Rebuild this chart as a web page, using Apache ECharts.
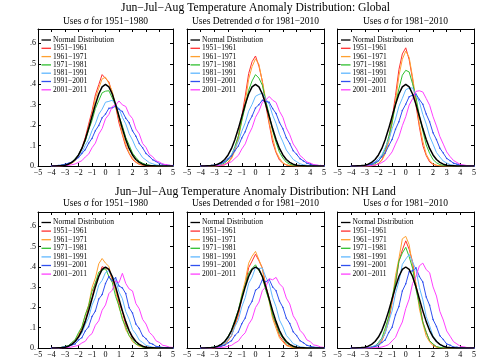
<!DOCTYPE html>
<html><head><meta charset="utf-8">
<script src="https://cdn.jsdelivr.net/npm/echarts@6/dist/echarts.min.js"></script>
<style>html,body{margin:0;padding:0;background:#fff}#c{width:500px;height:360px}</style>
</head><body><div id="c"></div>
<script>
const xs = [-4,-3.75,-3.5,-3.25,-3,-2.75,-2.5,-2.25,-2,-1.75,-1.5,-1.25,-1,-0.75,-0.5,-0.25,0,0.25,0.5,0.75,1,1.25,1.5,1.75,2,2.25,2.5,2.75,3,3.25,3.5,3.75,4,4.25,4.5,4.75,5];
const normal = [0,0,0.001,0.002,0.004,0.009,0.018,0.032,0.054,0.086,0.130,0.183,0.242,0.301,0.352,0.387,0.399,0.387,0.352,0.301,0.242,0.183,0.130,0.086,0.054,0.032,0.018,0.009,0.004,0.002,0.001,0,0,0,0,0,0];

// Global, sigma 1951-1980
const g1_red = [0,0,0,0.001,0.003,0.007,0.015,0.029,0.051,0.088,0.139,0.205,0.268,0.348,0.398,0.447,0.428,0.412,0.352,0.291,0.210,0.152,0.095,0.061,0.032,0.018,0.008,0.004,0.001,0,0,0,0,0,0,0,0];
const g1_orange = [0,0,0,0.001,0.003,0.006,0.013,0.026,0.047,0.083,0.125,0.190,0.252,0.330,0.380,0.426,0.434,0.404,0.365,0.293,0.230,0.158,0.108,0.063,0.039,0.020,0.010,0.005,0.002,0.001,0,0,0,0,0,0,0];
const g1_green = [0,0.001,0.001,0.003,0.006,0.011,0.018,0.036,0.053,0.089,0.121,0.176,0.222,0.281,0.320,0.358,0.366,0.368,0.333,0.300,0.244,0.196,0.140,0.102,0.063,0.042,0.023,0.014,0.007,0.004,0.002,0.001,0,0,0,0,0];
const g1_lblue = [0,0.001,0.002,0.004,0.007,0.011,0.020,0.029,0.049,0.067,0.101,0.129,0.173,0.206,0.253,0.278,0.312,0.316,0.322,0.298,0.281,0.238,0.206,0.158,0.127,0.089,0.066,0.041,0.029,0.016,0.011,0.005,0.003,0.002,0.001,0,0];
const g1_blue = [0.001,0.001,0.003,0.004,0.008,0.013,0.018,0.030,0.041,0.061,0.080,0.111,0.135,0.173,0.198,0.236,0.254,0.282,0.285,0.292,0.278,0.266,0.234,0.212,0.172,0.146,0.110,0.089,0.061,0.047,0.030,0.022,0.012,0.008,0.005,0.003,0.002];
const g1_magenta = [0,0,0,0.001,0.002,0.003,0.006,0.010,0.018,0.026,0.044,0.058,0.089,0.112,0.156,0.183,0.231,0.252,0.291,0.298,0.318,0.299,0.291,0.252,0.232,0.181,0.157,0.110,0.091,0.057,0.045,0.025,0.019,0.009,0.007,0.003,0.002];

// Global, detrended sigma 1981-2010
const g2_red = [0,0,0,0,0,0.001,0.003,0.007,0.018,0.041,0.085,0.146,0.243,0.342,0.452,0.510,0.538,0.488,0.415,0.297,0.205,0.117,0.065,0.029,0.014,0.005,0.002,0.001,0,0,0,0,0,0,0,0,0];
const g2_orange = [0,0,0,0,0,0.001,0.002,0.006,0.016,0.036,0.076,0.131,0.222,0.314,0.424,0.486,0.524,0.497,0.412,0.324,0.213,0.138,0.071,0.038,0.015,0.006,0.002,0.001,0,0,0,0,0,0,0,0,0];
const g2_green = [0,0,0,0,0.001,0.003,0.007,0.015,0.030,0.052,0.096,0.146,0.222,0.291,0.370,0.416,0.447,0.430,0.395,0.319,0.251,0.173,0.116,0.067,0.039,0.019,0.009,0.004,0.002,0.001,0,0,0,0,0,0,0];
const g2_lblue = [0,0,0.001,0.002,0.004,0.007,0.012,0.021,0.037,0.056,0.089,0.121,0.170,0.211,0.268,0.301,0.341,0.350,0.356,0.329,0.302,0.249,0.208,0.155,0.118,0.078,0.055,0.032,0.021,0.011,0.006,0.003,0.001,0.001,0,0,0];
const g2_blue = [0,0.001,0.001,0.003,0.004,0.008,0.014,0.021,0.035,0.049,0.075,0.098,0.137,0.168,0.213,0.244,0.284,0.300,0.322,0.315,0.312,0.281,0.257,0.213,0.182,0.138,0.110,0.075,0.057,0.036,0.025,0.014,0.009,0.005,0.003,0.002,0.001];
const g2_magenta = [0,0,0,0.001,0.001,0.002,0.004,0.007,0.014,0.021,0.037,0.052,0.083,0.108,0.153,0.187,0.238,0.268,0.312,0.323,0.340,0.322,0.311,0.268,0.238,0.186,0.153,0.108,0.083,0.051,0.037,0.020,0.014,0.007,0.004,0.002,0.001];

// Global, sigma 1981-2010
const g3_red = [0,0,0,0,0,0,0.001,0.004,0.012,0.030,0.068,0.130,0.231,0.345,0.472,0.548,0.578,0.520,0.425,0.296,0.190,0.100,0.051,0.020,0.008,0.003,0.001,0,0,0,0,0,0,0,0,0,0];
const g3_orange = [0,0,0,0,0,0,0.001,0.004,0.011,0.027,0.061,0.117,0.210,0.315,0.441,0.522,0.562,0.531,0.435,0.322,0.204,0.121,0.058,0.028,0.010,0.004,0.001,0,0,0,0,0,0,0,0,0,0];
const g3_green = [0,0,0,0,0.001,0.002,0.005,0.011,0.024,0.048,0.083,0.143,0.212,0.302,0.378,0.444,0.468,0.460,0.402,0.336,0.245,0.171,0.103,0.062,0.031,0.016,0.007,0.003,0.001,0,0,0,0,0,0,0,0];
const g3_lblue = [0,0,0.001,0.001,0.003,0.006,0.011,0.020,0.036,0.055,0.091,0.126,0.182,0.230,0.292,0.331,0.373,0.381,0.382,0.346,0.312,0.252,0.205,0.146,0.107,0.066,0.044,0.024,0.015,0.007,0.004,0.002,0.001,0,0,0,0];
const g3_blue = [0,0,0.001,0.001,0.002,0.005,0.009,0.017,0.026,0.045,0.064,0.099,0.130,0.180,0.217,0.271,0.302,0.339,0.346,0.352,0.325,0.302,0.254,0.216,0.162,0.129,0.087,0.063,0.037,0.026,0.014,0.009,0.004,0.002,0.001,0.001,0];
const g3_magenta = [0,0,0,0,0,0.001,0.002,0.005,0.009,0.017,0.027,0.047,0.069,0.107,0.143,0.197,0.241,0.298,0.329,0.365,0.368,0.362,0.330,0.297,0.241,0.196,0.144,0.107,0.069,0.046,0.027,0.017,0.008,0.005,0.002,0.001,0];

// NH Land, sigma 1951-1980
const n1_red = [0,0,0.001,0.002,0.005,0.011,0.019,0.038,0.057,0.099,0.134,0.203,0.248,0.322,0.354,0.401,0.392,0.388,0.335,0.298,0.222,0.179,0.114,0.083,0.046,0.030,0.015,0.009,0.004,0.002,0.001,0,0,0,0,0,0];
const n1_orange = [0,0,0.001,0.002,0.006,0.009,0.022,0.035,0.068,0.101,0.163,0.212,0.298,0.345,0.415,0.441,0.418,0.402,0.332,0.282,0.200,0.152,0.090,0.062,0.031,0.019,0.008,0.005,0.002,0.001,0,0,0,0,0,0,0];
const n1_green = [0,0.001,0.001,0.003,0.008,0.012,0.027,0.041,0.075,0.104,0.162,0.208,0.279,0.320,0.374,0.383,0.391,0.352,0.323,0.254,0.207,0.141,0.104,0.061,0.041,0.020,0.013,0.005,0.003,0.001,0,0,0,0,0,0,0];
const n1_lblue = [0,0.001,0.001,0.003,0.007,0.009,0.021,0.029,0.053,0.073,0.116,0.149,0.211,0.249,0.310,0.333,0.372,0.381,0.352,0.334,0.276,0.243,0.179,0.142,0.091,0.069,0.039,0.027,0.013,0.009,0.004,0.002,0.001,0,0,0,0];
const n1_blue = [0,0.001,0.001,0.002,0.005,0.007,0.015,0.020,0.039,0.051,0.084,0.105,0.155,0.182,0.241,0.263,0.318,0.352,0.331,0.346,0.305,0.296,0.268,0.198,0.172,0.118,0.096,0.060,0.046,0.025,0.019,0.008,0.006,0.002,0.002,0.001,0];
const n1_magenta = [0,0,0,0.001,0.001,0.003,0.005,0.009,0.013,0.025,0.033,0.057,0.071,0.112,0.134,0.186,0.212,0.268,0.285,0.331,0.322,0.368,0.318,0.291,0.281,0.219,0.193,0.141,0.118,0.077,0.061,0.035,0.027,0.013,0.010,0.004,0.003];

// NH Land, detrended sigma 1981-2010
const n2_red = [0,0,0,0,0.001,0.003,0.009,0.016,0.037,0.060,0.112,0.160,0.245,0.309,0.396,0.428,0.462,0.430,0.395,0.308,0.245,0.159,0.112,0.059,0.037,0.015,0.009,0.002,0.001,0,0,0,0,0,0,0,0];
const n2_orange = [0,0,0,0,0.001,0.003,0.009,0.017,0.038,0.062,0.117,0.170,0.264,0.330,0.418,0.452,0.476,0.435,0.390,0.299,0.229,0.145,0.097,0.050,0.030,0.012,0.006,0.002,0.001,0,0,0,0,0,0,0,0];
const n2_green = [0,0,0.001,0.002,0.005,0.008,0.019,0.030,0.058,0.088,0.139,0.187,0.258,0.310,0.369,0.392,0.410,0.381,0.351,0.284,0.233,0.162,0.120,0.072,0.048,0.024,0.015,0.006,0.003,0.001,0.001,0,0,0,0,0,0];
const n2_lblue = [0,0,0.001,0.002,0.004,0.006,0.014,0.022,0.043,0.062,0.105,0.139,0.203,0.248,0.318,0.349,0.396,0.392,0.394,0.349,0.318,0.248,0.203,0.138,0.104,0.062,0.043,0.021,0.014,0.006,0.004,0.001,0.001,0,0,0,0];
const n2_blue = [0,0,0.001,0.001,0.003,0.005,0.009,0.014,0.026,0.036,0.062,0.079,0.120,0.148,0.201,0.230,0.284,0.298,0.335,0.326,0.338,0.301,0.282,0.231,0.200,0.147,0.121,0.080,0.061,0.036,0.026,0.013,0.009,0.004,0.003,0.001,0.001];
const n2_magenta = [0,0,0,0,0.001,0.001,0.003,0.004,0.009,0.013,0.025,0.034,0.058,0.075,0.117,0.143,0.199,0.226,0.283,0.301,0.342,0.336,0.348,0.316,0.299,0.246,0.217,0.159,0.131,0.087,0.069,0.040,0.031,0.015,0.012,0.005,0.003];

// NH Land, sigma 1981-2010
const n3_red = [0,0,0,0,0,0.001,0.003,0.006,0.017,0.036,0.077,0.131,0.224,0.312,0.428,0.483,0.528,0.486,0.425,0.311,0.224,0.130,0.077,0.035,0.017,0.005,0.002,0.001,0,0,0,0,0,0,0,0,0];
const n3_orange = [0,0,0,0,0,0.001,0.002,0.008,0.016,0.041,0.078,0.152,0.233,0.356,0.441,0.538,0.550,0.509,0.405,0.312,0.192,0.121,0.058,0.030,0.011,0.004,0.001,0,0,0,0,0,0,0,0,0,0];
const n3_green = [0,0,0,0,0.001,0.002,0.006,0.010,0.027,0.049,0.099,0.153,0.248,0.325,0.428,0.468,0.496,0.450,0.393,0.289,0.214,0.126,0.078,0.036,0.020,0.007,0.003,0.001,0,0,0,0,0,0,0,0,0];
const n3_lblue = [0,0,0,0,0.001,0.002,0.005,0.012,0.021,0.046,0.073,0.131,0.182,0.268,0.328,0.412,0.438,0.461,0.424,0.386,0.298,0.237,0.155,0.109,0.057,0.037,0.015,0.009,0.003,0.002,0.001,0,0,0,0,0,0];
const n3_blue = [0,0,0,0,0.001,0.002,0.003,0.008,0.012,0.027,0.040,0.076,0.102,0.164,0.205,0.281,0.316,0.376,0.380,0.395,0.352,0.325,0.251,0.210,0.140,0.106,0.060,0.042,0.020,0.014,0.005,0.004,0.001,0.001,0,0,0];
const n3_magenta = [0,0,0,0,0,0,0,0.001,0.002,0.005,0.010,0.017,0.035,0.052,0.093,0.128,0.194,0.241,0.318,0.352,0.405,0.418,0.386,0.371,0.301,0.256,0.180,0.138,0.084,0.058,0.031,0.020,0.008,0.006,0.002,0.001,0];

const seriesNames = ['Normal Distribution','1951\u22121961','1961\u22121971','1971\u22121981','1981\u22121991','1991\u22122001','2001\u22122011'];
const mainTitles = ['Jun\u2212Jul\u2212Aug Temperature Anomaly Distribution: Global','Jun\u2212Jul\u2212Aug Temperature Anomaly Distribution: NH Land'];
const subTitles = ['Uses \u03c3 for 1951\u22121980','Uses Detrended \u03c3 for 1981\u22122010','Uses \u03c3 for 1981\u22122010'];
const xMin = -5, xMax = 5, yMax = 0.67;

const panels = [
  [g1_red,g1_orange,g1_green,g1_lblue,g1_blue,g1_magenta],
  [g2_red,g2_orange,g2_green,g2_lblue,g2_blue,g2_magenta],
  [g3_red,g3_orange,g3_green,g3_lblue,g3_blue,g3_magenta],
  [n1_red,n1_orange,n1_green,n1_lblue,n1_blue,n1_magenta],
  [n2_red,n2_orange,n2_green,n2_lblue,n2_blue,n2_magenta],
  [n3_red,n3_orange,n3_green,n3_lblue,n3_blue,n3_magenta]
];

const colors = ['#ff3030','#ffa030','#30c030','#60b8ff','#3050f0','#ff40ff'];
const FONT = 'Liberation Serif';
const colLeft = [38,187,337.5], colWidth = [135,137,136.5];
const rowTop = [29,212], rowHeight = [137,136];
const rowTitleTop = [1.5,185.5], rowSubTop = [16,198.5];
const colCenter = [105.5,255.5,405.5];

const grids=[], xAxes=[], yAxes=[], series=[], legends=[], titles=[];
for (let r=0;r<2;r++){
  titles.push({text: mainTitles[r], left: 255.5, top: rowTitleTop[r], textAlign:'center', padding:0,
    textStyle:{fontFamily:FONT,fontSize:11.7,fontWeight:'normal',color:'#000'}});
  for (let c=0;c<3;c++){
    titles.push({text: subTitles[c], left: colCenter[c], top: rowSubTop[r], textAlign:'center', padding:0,
      textStyle:{fontFamily:FONT,fontSize:9.5,fontWeight:'normal',color:'#000'}});
  }
}
for (let p=0;p<6;p++){
  const r = Math.floor(p/3), c = p%3;
  grids.push({left: colLeft[c], top: rowTop[r], width: colWidth[c], height: rowHeight[r], containLabel:false});
  const axisLine = {show:true, onZero:false, lineStyle:{color:'#000', width:1}};
  xAxes.push({type:'value', gridIndex:p, min:xMin, max:xMax, interval:1, position:'bottom',
    axisLine, axisTick:{inside:true, length:3, lineStyle:{color:'#000'}}, splitLine:{show:false},
    axisLabel:{fontFamily:FONT, fontSize:8, color:'#000', margin:3,
      formatter: v => v<0 ? '\u2212'+(-v) : String(v)}});
  yAxes.push({type:'value', gridIndex:p, min:0, max:yMax, interval:0.1, position:'left',
    axisLine, axisTick:{inside:true, length:3, lineStyle:{color:'#000'}}, splitLine:{show:false},
    axisLabel:{show: c===0, showMaxLabel:false, fontFamily:FONT, fontSize:8, color:'#000', margin:2,
      formatter: v => v===0 ? '0.' : '.'+Math.round(v*10)}});
  const data = panels[p];
  for (let k=0;k<6;k++){
    series.push({type:'line', name: seriesNames[k+1], xAxisIndex:p, yAxisIndex:p,
      data: xs.map((x,i)=>[x, data[k][i]]), symbol: k===4 ? 'circle' : 'none', symbolSize: 1.5, showSymbol: k===4,
      itemStyle:{color: colors[k]}, lineStyle:{color: colors[k], width:1}, z: 2+k, silent:true, animation:false});
  }
  series.push({type:'line', name: seriesNames[0], xAxisIndex:p, yAxisIndex:p,
    data: xs.map((x,i)=>[x, normal[i]]), symbol:'none', itemStyle:{color:'#000'},
    lineStyle:{color:'#000', width:1.5}, z:10, silent:true, animation:false});
  legends.push({orient:'vertical', left: colLeft[c]+3.5, top: rowTop[r] + (r===0 ? 7 : 6.5),
    icon:'rect', itemWidth:9.5, itemHeight:1.3, itemGap: r===0 ? 0.3 : 0.6, padding:0, selectedMode:false,
    data: seriesNames.map(n=>({name:n})),
    textStyle:{fontFamily:FONT, fontSize:7.5, color:'#000', lineHeight:8, padding:[0,0,0,-3]}});
}
// mirrored top / right axes for the box frame
for (let p=0;p<6;p++){
  const axisLine = {show:true, onZero:false, lineStyle:{color:'#000', width:1}};
  xAxes.push({type:'value', gridIndex:p, min:xMin, max:xMax, interval:1, position:'top',
    axisLine, axisTick:{inside:true, length:3, lineStyle:{color:'#000'}}, axisLabel:{show:false}, splitLine:{show:false}});
  yAxes.push({type:'value', gridIndex:p, min:0, max:yMax, interval:0.1, position:'right',
    axisLine, axisTick:{inside:true, length:3, lineStyle:{color:'#000'}}, axisLabel:{show:false}, splitLine:{show:false}});
}

const chart = echarts.init(document.getElementById('c'), null, {renderer:'canvas'});
chart.setOption({
  backgroundColor:'#fff', animation:false,
  title: titles, legend: legends, grid: grids, xAxis: xAxes, yAxis: yAxes, series: series
});
</script></body></html>
